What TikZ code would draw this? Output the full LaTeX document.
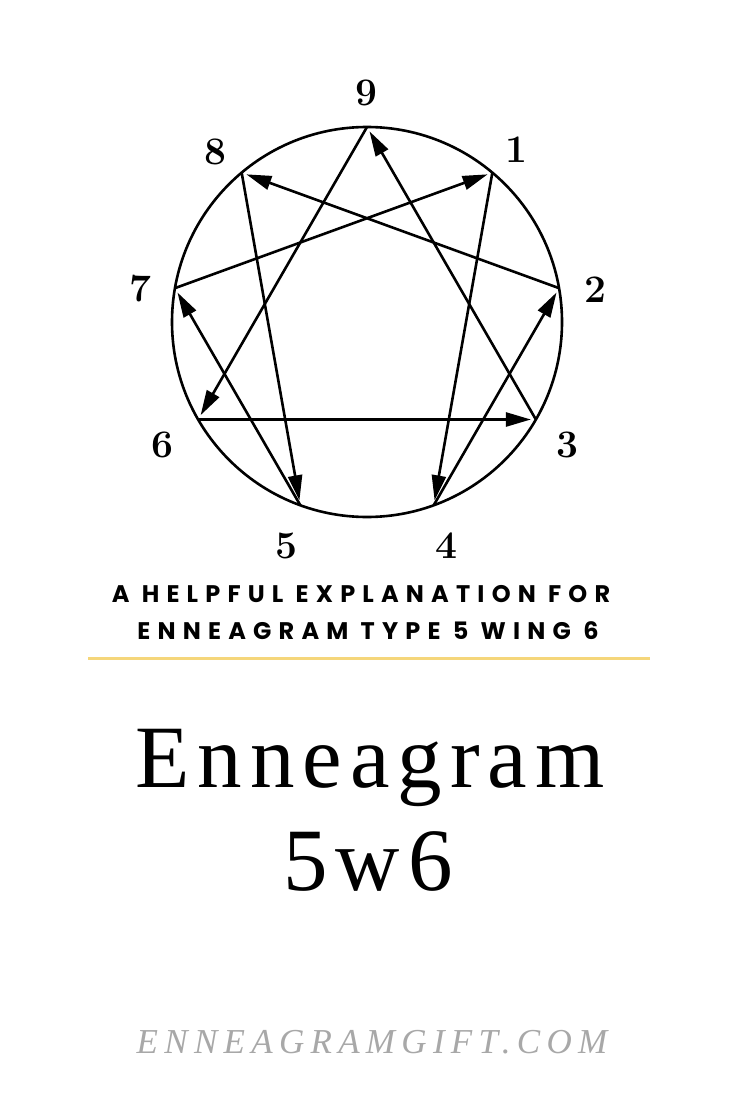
\documentclass[tikz,border=0pt]{standalone}
\usepackage{fontspec}
\usetikzlibrary{arrows.meta}
\newfontfamily\subfont[LetterSpace=30]{Poppins}
\newfontfamily\titlefont[LetterSpace=9]{Liberation Serif}
\newfontfamily\footfont[LetterSpace=18]{Liberation Serif}
\definecolor{gold}{RGB}{245,214,122}
\definecolor{footgray}{RGB}{168,168,168}
\tikzset{
  ring/.style={draw=black, line width=2.6pt},
  flow/.style={draw=black, line width=2.6pt, -{Triangle[length=25pt,width=14pt]}, shorten >=5pt},
  num/.style={font=\fontsize{39}{39}\selectfont\bfseries, inner sep=0pt},
  sub/.style={font=\fontsize{24}{24}\selectfont\subfont\bfseries, inner sep=0pt, anchor=base},
  title/.style={font=\fontsize{89}{89}\selectfont\titlefont, inner sep=0pt, anchor=base},
  foot/.style={font=\fontsize{35}{35}\selectfont\footfont\itshape, text=footgray, inner sep=0pt, anchor=base}
}
\begin{document}
\begin{tikzpicture}[x=1pt,y=-1pt]
\useasboundingbox[fill=white] (0,0) rectangle (735,1102);
% circle
\coordinate (C) at (367,322);
\node[ring, circle, minimum size=390pt, inner sep=0pt] (circ) at (C) {};
% points
\foreach \n/\a in {9/90,1/50,2/10,3/-30,4/-70,5/-110,6/-150,7/170,8/130}{
  \coordinate (p\n) at ({367+195*cos(\a)},{322-195*sin(\a)});
}
% connectors
\draw[flow] (p3) -- (p9);
\draw[flow] (p9) -- (p6);
\draw[flow] (p6) -- (p3);
\draw[flow] (p1) -- (p4);
\draw[flow] (p4) -- (p2);
\draw[flow] (p2) -- (p8);
\draw[flow] (p8) -- (p5);
\draw[flow] (p5) -- (p7);
\draw[flow] (p7) -- (p1);
% labels
\node[num] (l9) at (366,93) {9};
\node[num] (l1) at (516,150) {1};
\node[num] (l2) at (595,290) {2};
\node[num] (l3) at (567,445) {3};
\node[num] (l4) at (446,546) {4};
\node[num] (l5) at (286,546) {5};
\node[num] (l6) at (162,445) {6};
\node[num] (l7) at (140,289) {7};
\node[num] (l8) at (215,152) {8};
% subtitle
\node[sub] (s1) at (361,602) {A HELPFUL EXPLANATION FOR};
\node[sub] (s2) at (368,639) {ENNEAGRAM TYPE 5 WING 6};
\coordinate (g1) at (88,658);
\coordinate (g2) at (650,658);
\draw[gold, line width=3pt] (g1) -- (g2);
% title
\node[title] (t1) at (370,787) {Enneagram};
\node[title] (t2) at (368,890) {5w6};
% footer
\node[foot] (f) at (372,1053) {ENNEAGRAMGIFT.COM};
\end{tikzpicture}
\end{document}
